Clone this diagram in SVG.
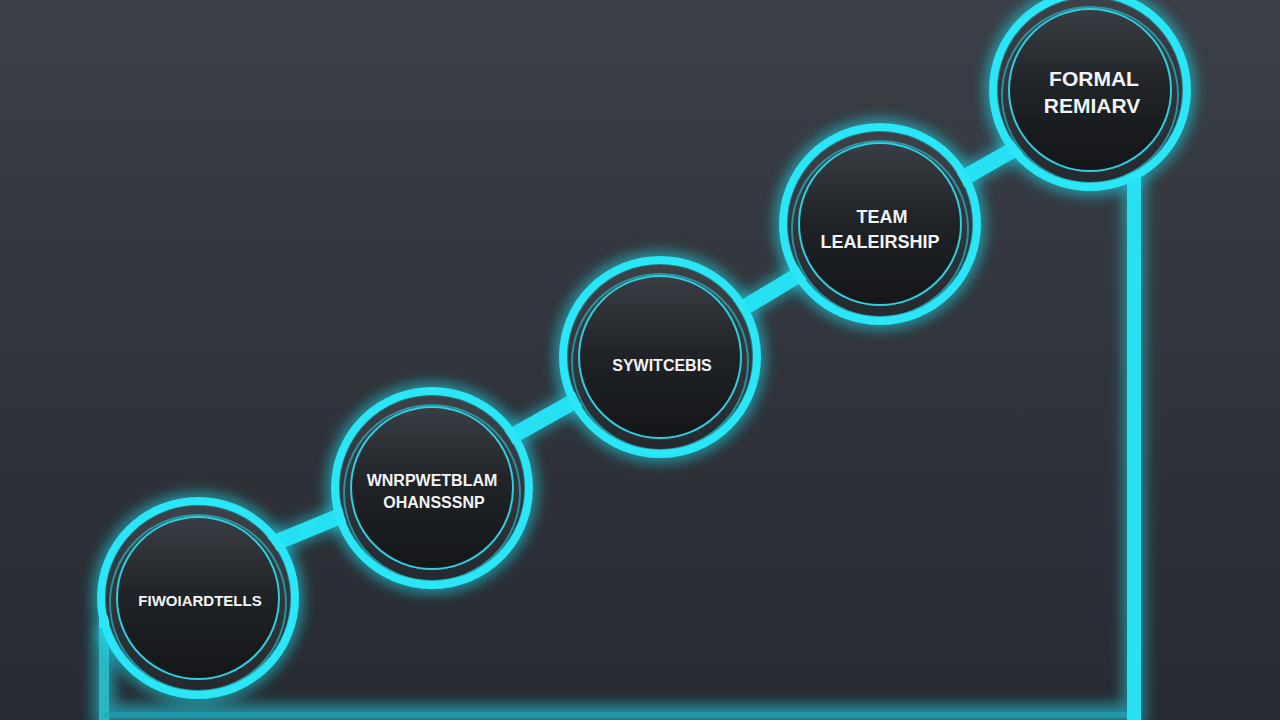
<svg xmlns="http://www.w3.org/2000/svg" width="1280" height="720" viewBox="0 0 1280 720">
<defs>
<linearGradient id="bg" x1="0" y1="0" x2="0" y2="1">
<stop offset="0" stop-color="#3b3f46"/>
<stop offset="1" stop-color="#272a30"/>
</linearGradient>
<linearGradient id="inner" x1="0" y1="0" x2="0" y2="1">
<stop offset="0" stop-color="#3a3d43"/>
<stop offset="0.5" stop-color="#1f2226"/>
<stop offset="1" stop-color="#141619"/>
</linearGradient>
<linearGradient id="band" x1="0" y1="0" x2="0" y2="1">
<stop offset="0" stop-color="#3c4248"/>
<stop offset="1" stop-color="#242a30"/>
</linearGradient>
<filter id="glow" x="-50%" y="-50%" width="200%" height="200%">
<feGaussianBlur stdDeviation="7"/>
</filter>
<filter id="glowS" x="-50%" y="-50%" width="200%" height="200%">
<feGaussianBlur stdDeviation="3"/>
</filter>
<g id="node">
<circle r="98" fill="none" stroke="#1fe4f5" stroke-width="14" opacity="0.6" filter="url(#glow)"/>
<circle r="92" fill="url(#band)"/>
<circle r="88" cy="5" fill="none" stroke="#25b8c8" stroke-width="2" opacity="0.7"/>
<circle r="97" fill="none" stroke="#2ae6f6" stroke-width="8"/>
<circle r="81" fill="url(#inner)" stroke="#2ccfe0" stroke-width="2"/>
</g>
</defs>
<style>
.lbl{font-family:"Liberation Sans Narrow","Liberation Sans",Arial,sans-serif;font-weight:bold;fill:#f2f4f5;text-anchor:middle}
.conn{stroke:#27e0f2;fill:none;stroke-linecap:butt}
.glw{stroke:#1fd8ee;fill:none;opacity:0.55}
</style>
<rect width="1280" height="720" fill="url(#bg)"/>
<g id="connectors">
<g filter="url(#glow)">
<path class="glw" stroke-width="22" d="M104 625 V715 H1134 V175"/>
<path class="glw" stroke-width="22" d="M270 545 L350 512 M505 440 L580 398 M740 310 L810 268 M960 180 L1020 146"/>
</g>
<path d="M104 625 V720" stroke="#2bb4c4" stroke-width="10" fill="none"/>
<path d="M104 615 V628" stroke="#2ff0ff" stroke-width="10" fill="none"/>
<path d="M104 715 H1134" stroke="#1aa8bb" stroke-width="6" fill="none" opacity="0.6"/>
<path class="conn" stroke-width="14" d="M1134 172 V720"/>
<path class="conn" stroke-width="16" d="M270 545 L350 512 M505 440 L580 398 M740 310 L810 268 M960 180 L1020 146"/>
</g>
<g id="n1"><use href="#node" x="198" y="598"/><text class="lbl" x="200" y="606" font-size="15">FIWOIARDTELLS</text></g>
<g id="n2"><use href="#node" x="432" y="488"/><text class="lbl" x="432" y="486" font-size="16">WNRPWETBLAM</text><text class="lbl" x="434" y="508" font-size="16">OHANSSSNP</text></g>
<g id="n3"><use href="#node" x="660" y="357"/><text class="lbl" x="662" y="371" font-size="16">SYWITCEBIS</text></g>
<g id="n4"><use href="#node" x="880" y="224"/><text class="lbl" x="882" y="223" font-size="18">TEAM</text><text class="lbl" x="880" y="248" font-size="18">LEALEIRSHIP</text></g>
<g id="n5"><use href="#node" x="1090" y="90"/><text class="lbl" x="1094" y="86" font-size="21">FORMAL</text><text class="lbl" x="1092" y="113" font-size="21">REMIARV</text></g>
</svg>
